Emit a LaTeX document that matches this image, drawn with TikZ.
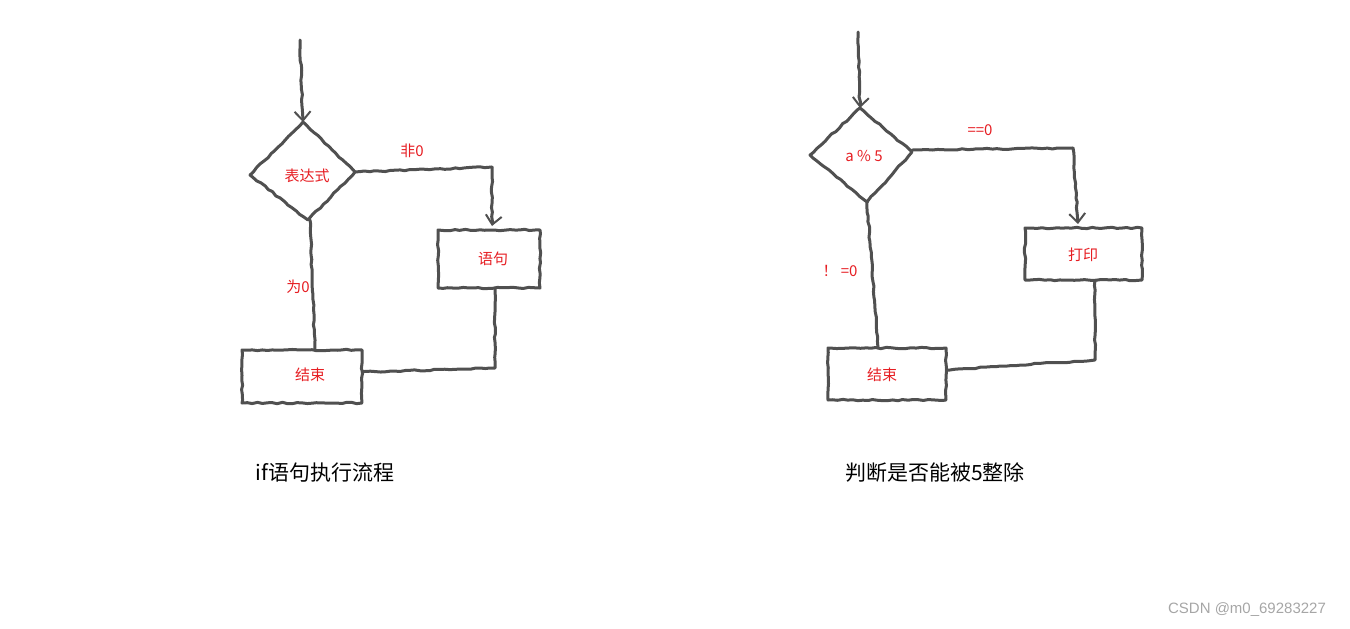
\documentclass[tikz,border=0pt]{standalone}
\usepackage{fontspec}
\newfontfamily\cjk{Noto Sans CJK SC}
\usetikzlibrary{arrows.meta,decorations.pathmorphing}
\definecolor{lbl}{RGB}{230,30,35}
\definecolor{pen}{RGB}{80,80,80}
\tikzset{
 sk/.style={draw=pen,line width=3pt,line cap=round,line join=round,decorate,decoration={random steps,segment length=5pt,amplitude=0.7pt}},
 arr/.style={sk,-{Straight Barb[length=9pt,width=16pt,line width=2pt]}},
 lab/.style={text=lbl,font=\cjk\fontsize{15}{18}\selectfont,inner sep=0pt},
 captxt/.style={font=\cjk\fontsize{21}{25}\selectfont,inner sep=0pt},
}
\begin{document}
\begin{tikzpicture}[x=1pt,y=-1pt]
\pgfmathsetseed{7}
\useasboundingbox (0,0) rectangle (1350,629);
% left
\coordinate (s1) at (300,40);
\draw[sk] (303,122) -- (355,172) -- (308,220) -- (250,175) -- cycle;
\coordinate (dT) at (303,122); \coordinate (dR) at (355,172); \coordinate (dB) at (310,220);
\node[lab] (d1) at (307,176) {表达式};
\draw[arr] (s1) -- (dT);
\draw[sk] (438,230) rectangle (540,288);
\node[lab] (b1) at (493,259) {语句};
\draw[sk] (242,350) rectangle (362,403);
\node[lab] (e1) at (310,375) {结束};
\coordinate (k1) at (492,167);
\draw[sk] (dR) -- (k1);
\draw[arr] (k1) -- (492,226);
\node[lab] (n1) at (412,151) {非0};
\draw[sk] (dB) -- (315,350);
\node[lab] (z1) at (298,287) {为0};
\coordinate (k2) at (495,368);
\draw[sk] (495,288) -- (k2) -- (362,372);
\node[captxt] (c1) at (325,473) {if语句执行流程};
% right
\coordinate (s2) at (858,32);
\draw[sk] (860,108) -- (912,152) -- (867,202) -- (810,155) -- cycle;
\node[lab] (d2) at (864,156) {a \% 5};
\draw[arr] (s2) -- (860,108);
\draw[sk] (1025,228) rectangle (1142,280);
\node[lab] (b2) at (1083,255) {打印};
\draw[sk] (828,348) rectangle (946,400);
\node[lab] (e2) at (882,375) {结束};
\coordinate (k3) at (1073,148);
\draw[sk] (912,150) -- (k3);
\draw[arr] (k3) -- (1078,224);
\node[lab] (n2) at (980,130) {==0};
\draw[sk] (867,202) -- (878,348);
\node[lab] (z2) at (840,271) {！ =0};
\coordinate (k4) at (1095,360);
\draw[sk] (1095,280) -- (k4) -- (946,370);
\node[captxt] (c2) at (935,473) {判断是否能被5整除};
\node[text=gray!70,font=\fontspec{Liberation Sans}\fontsize{15}{18}\selectfont,inner sep=0pt] (w) at (1247,610) {CSDN @m0\_69283227};
\end{tikzpicture}
\end{document}
